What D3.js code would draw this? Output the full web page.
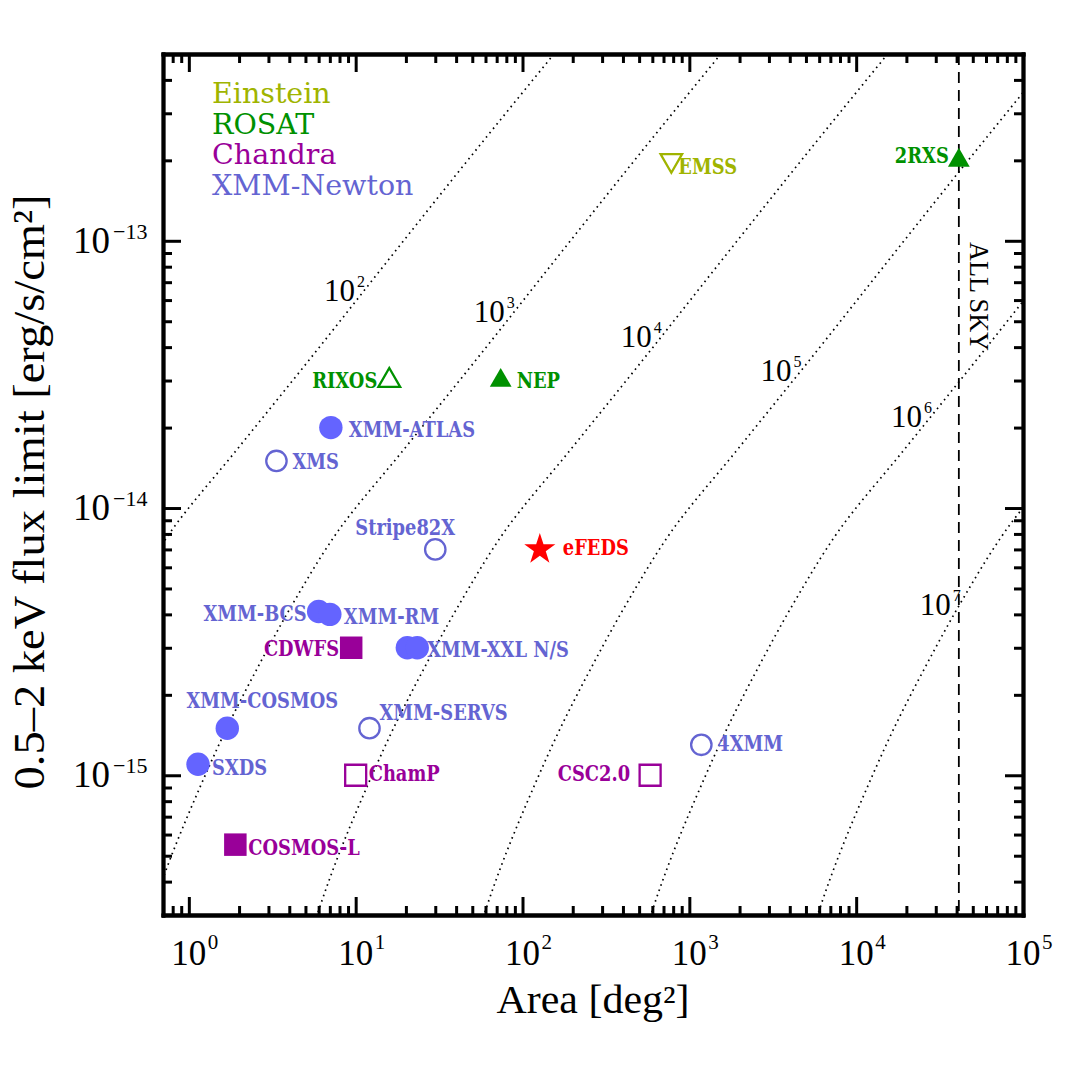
<!DOCTYPE html>
<html><head><meta charset="utf-8">
<script src="https://cdn.jsdelivr.net/npm/d3@7"></script>
<style>body{margin:0;background:#fff}svg{display:block}</style>
</head><body>
<svg id="c" width="1080" height="1080"></svg>
<script>
// ---------------- data ----------------
const surveyNames   = ["EMSS","2RXS","RIXOS","NEP","XMM-ATLAS","XMS","Stripe82X","eFEDS","XMM-BCS","XMM-RM","CDWFS","XMM-XXL N","XMM-XXL S","XMM-COSMOS","SXDS","XMM-SERVS","ChamP","COSMOS-L","CSC2.0","4XMM"];
const surveyLabels  = ["EMSS","2RXS","RIXOS","NEP","XMM-ATLAS","XMS","Stripe82X","eFEDS","XMM-BCS","XMM-RM","CDWFS","","XMM-XXL N/S","XMM-COSMOS","SXDS","XMM-SERVS","ChamP","COSMOS-L","CSC2.0","4XMM"];
const surveyArea    = [780, 41253, 15.9, 74, 7.1, 3.35, 30, 127, 6.0, 7.0, 9.4, 20.4, 23.4, 1.7, 1.135, 12.1, 10.0, 1.9, 582, 1180];
const surveyFlux    = [2.0e-13, 2.0e-13, 3.0e-14, 3.0e-14, 2.0e-14, 1.5e-14, 7.0e-15, 7.0e-15, 4.1e-15, 4.0e-15, 3.0e-15, 3.0e-15, 3.0e-15, 1.5e-15, 1.1e-15, 1.5e-15, 1.0e-15, 5.5e-16, 1.0e-15, 1.3e-15];
const surveyMission = ["Einstein","ROSAT","ROSAT","ROSAT","XMM-Newton","XMM-Newton","XMM-Newton","eROSITA","XMM-Newton","XMM-Newton","Chandra","XMM-Newton","XMM-Newton","XMM-Newton","XMM-Newton","XMM-Newton","Chandra","Chandra","Chandra","XMM-Newton"];
const surveyMarker  = ["tridown-open","tri","tri-open","tri","circle","circle-open","circle-open","star","circle","circle","square","circle","circle","circle","circle","circle-open","square-open","square","square-open","circle-open"];

const legendMissions = ["Einstein","ROSAT","Chandra","XMM-Newton"];

// cumulative source density: log10 S vs log10 N(>S) [deg^-2]
const curveLogFlux = [-12.30, -12.70, -13.10, -13.40, -13.78, -14.09, -14.34, -14.60, -14.82, -15.04, -15.36, -15.52];
const curveLogN    = [-0.19, 0.33, 0.84, 1.22, 1.71, 2.11, 2.36, 2.59, 2.77, 2.93, 3.14, 3.23];
const curveLevels  = [2, 3, 4, 5, 6, 7];          // log10 number of sources
const curveLabelFlux = [6.5e-14, 5.4e-14, 4.35e-14, 3.25e-14, 2.2e-14, 4.35e-15];

const allSkyArea = 41253;
const xTickExp = [0, 1, 2, 3, 4, 5];
const yTickExp = [-13, -14, -15];

// ---------------- layout / styles ----------------
const L = 163, R = 1023, T = 54, B = 915;
const colors = {"Einstein":"#a0b400","ROSAT":"#009100","Chandra":"#990099","XMM-Newton":"#6464d2","eROSITA":"#ff0000"};
const fills  = {"Einstein":"#a0b400","ROSAT":"#009100","Chandra":"#990099","XMM-Newton":"#6464ff","eROSITA":"#ff0000"};
const labelPos = { // dx, dy, anchor relative to marker
  "EMSS":[7,14,"start"],"2RXS":[-10,3,"end"],"RIXOS":[-12,7,"end"],"NEP":[16,7,"start"],
  "XMM-ATLAS":[18,9,"start"],"XMS":[16,8,"start"],"Stripe82X":[-80,-14,"start"],"eFEDS":[23,6,"start"],
  "XMM-BCS":[-12,9,"end"],"XMM-RM":[14,10,"start"],"CDWFS":[-12,8,"end"],"XMM-XXL S":[10,9,"start"],
  "XMM-COSMOS":[35,-20,"middle"],"SXDS":[14,11,"start"],"XMM-SERVS":[10,-8,"start"],"ChamP":[13,6,"start"],
  "COSMOS-L":[13,10,"start"],"CSC2.0":[-20,6,"end"],"4XMM":[16,6,"start"]
};

const svg = d3.select("#c");
const x = d3.scaleLog().domain([0.7, 1e5]).range([L, R]);
const y = d3.scaleLog().domain([3e-16, 5e-13]).range([B, T]);

svg.append("defs").append("clipPath").attr("id","clip")
  .append("rect").attr("x",L).attr("y",T).attr("width",R-L).attr("height",B-T);

// ---------- curves of constant number of sources ----------
const logNAt = d3.scaleLinear().domain(curveLogFlux).range(curveLogN);
const line = d3.line().x(d=>x(d[0])).y(d=>y(d[1])).curve(d3.curveMonotoneY);
const gC = svg.append("g").attr("clip-path","url(#clip)");
curveLevels.forEach(k=>{
  const pts = curveLogFlux.map((s,i)=>[Math.pow(10, k-curveLogN[i]), Math.pow(10,s)]);
  gC.append("path").attr("d", line(pts)).attr("fill","none").attr("stroke","#000")
    .attr("stroke-width",1.7).attr("stroke-dasharray","1.6 4");
});
// all-sky line
gC.append("line").attr("x1",x(allSkyArea)).attr("x2",x(allSkyArea)).attr("y1",T).attr("y2",B)
  .attr("stroke","#000").attr("stroke-width",1.8).attr("stroke-dasharray","11 7");

// curve labels
curveLevels.forEach((k,i)=>{
  const f = curveLabelFlux[i];
  const cx = x(Math.pow(10, k - logNAt(Math.log10(f))));
  const cy = y(f);
  svg.append("text").attr("x",cx-9).attr("y",cy+10).attr("text-anchor","end")
    .attr("font-family","Liberation Serif").attr("font-size",31).text("10");
  svg.append("text").attr("x",cx-7).attr("y",cy-4)
    .attr("font-family","Liberation Serif").attr("font-size",16).text(String(k));
});

// ALL SKY label
svg.append("text").attr("transform",`translate(${x(allSkyArea)+11},${242}) rotate(90)`)
  .attr("font-family","Liberation Serif").attr("font-size",28).attr("textLength",109)
  .attr("lengthAdjust","spacingAndGlyphs").text("ALL SKY");

// ---------- axes ----------
function ticksFor(lo, hi, e0, e1){
  const maj=[], min=[];
  for(let e=e0;e<=e1;e++){ for(let m=1;m<=9;m++){ const v=m*Math.pow(10,e);
    if(v>lo*1.001 && v<hi*0.999){ (m===1?maj:min).push(v);} } }
  return {maj,min};
}
const xt = ticksFor(0.7, 1e5, -1, 5); xt.maj.push(1e5);
const yt = ticksFor(3e-16, 5e-13, -16, -13);
function styleAxis(g){
  g.selectAll(".tick line").attr("stroke","#000").attr("stroke-width",3);
  g.selectAll(".tick text").remove();
  g.select(".domain").attr("stroke","#000").attr("stroke-width",3.8);
}
[[xt.maj,18],[xt.min,9]].forEach(([vals,len])=>{
  svg.append("g").attr("transform",`translate(0,${B})`).call(d3.axisBottom(x).tickValues(vals).tickSizeInner(-len).tickSizeOuter(0)).call(styleAxis);
  svg.append("g").attr("transform",`translate(0,${T})`).call(d3.axisTop(x).tickValues(vals).tickSizeInner(-len).tickSizeOuter(0)).call(styleAxis);
});
[[yt.maj,18],[yt.min,9]].forEach(([vals,len])=>{
  svg.append("g").attr("transform",`translate(${L},0)`).call(d3.axisLeft(y).tickValues(vals).tickSizeInner(-len).tickSizeOuter(0)).call(styleAxis);
  svg.append("g").attr("transform",`translate(${R},0)`).call(d3.axisRight(y).tickValues(vals).tickSizeInner(-len).tickSizeOuter(0)).call(styleAxis);
});
svg.selectAll(".domain").attr("stroke-linecap","square");

// tick labels
xTickExp.forEach(e=>{
  const px = x(Math.pow(10,e));
  svg.append("text").attr("x",px).attr("y",965).attr("text-anchor","middle")
    .attr("font-family","Liberation Serif").attr("font-size",35).text("10");
  svg.append("text").attr("x",px+19).attr("y",949)
    .attr("font-family","Liberation Serif").attr("font-size",21).text(String(e));
});
yTickExp.forEach(e=>{
  const py = y(Math.pow(10,e));
  svg.append("text").attr("x",110).attr("y",py+12).attr("text-anchor","end")
    .attr("font-family","Liberation Serif").attr("font-size",37).text("10");
  svg.append("text").attr("x",113).attr("y",py-2)
    .attr("font-family","Liberation Serif").attr("font-size",22).text("\u2212"+String(-e));
});

// axis titles
svg.append("text").attr("x",593).attr("y",1013).attr("text-anchor","middle")
  .attr("font-family","Liberation Serif").attr("font-size",40)
  .attr("textLength",193).attr("lengthAdjust","spacingAndGlyphs").text("Area [deg\u00b2]");
svg.append("text").attr("transform","translate(44,492) rotate(-90)").attr("text-anchor","middle")
  .attr("font-family","Liberation Serif").attr("font-size",44)
  .attr("textLength",595).attr("lengthAdjust","spacingAndGlyphs").text("0.5\u20132 keV flux limit [erg/s/cm\u00b2]");

// ---------- legend ----------
legendMissions.forEach((m,i)=>{
  svg.append("text").attr("x",212).attr("y",103+30.7*i)
    .attr("font-family","DejaVu Serif").attr("font-size",28.5).attr("fill",colors[m]).text(m);
});

// ---------- markers ----------
const gM = svg.append("g");
surveyNames.forEach((n,i)=>{
  const px = x(surveyArea[i]), py = y(surveyFlux[i]);
  const mk = surveyMarker[i], col = colors[surveyMission[i]], fil = fills[surveyMission[i]];
  let sym, open = mk.endsWith("open"), rot = 0, size;
  if(mk.startsWith("circle")){ sym=d3.symbolCircle; size = open? Math.PI*10.2*10.2 : Math.PI*11.7*11.7; }
  else if(mk.startsWith("square")){ sym=d3.symbolSquare; size = open? 21*21 : 22.5*22.5; }
  else if(mk.startsWith("tridown")){ sym=d3.symbolTriangle; size=200; rot=180; }
  else if(mk.startsWith("tri")){ sym=d3.symbolTriangle; size=205; }
  else { sym=d3.symbolStar; size=300; }
  gM.append("path").attr("d", d3.symbol().type(sym).size(size)())
    .attr("transform",`translate(${px},${py}) rotate(${rot})`)
    .attr("fill", open? "none" : (mk==="star"? colors.eROSITA : fil))
    .attr("stroke", open? col : "none").attr("stroke-width", open? 2.3 : 0);
});
// labels (bold, slightly condensed)
surveyNames.forEach((n,i)=>{
  const t = surveyLabels[i]; if(!t) return;
  const p = labelPos[n]; const px = x(surveyArea[i]), py = y(surveyFlux[i]);
  const el = svg.append("text").attr("x",px+p[0]).attr("y",py+p[1]).attr("text-anchor",p[2])
    .attr("font-family","DejaVu Serif").attr("font-weight","bold").attr("font-size",21.5)
    .attr("fill", colors[surveyMission[i]]).text(t);
  const w = el.node().getComputedTextLength();
  el.attr("textLength", w*0.83).attr("lengthAdjust","spacingAndGlyphs");
});
</script>
</body></html>
